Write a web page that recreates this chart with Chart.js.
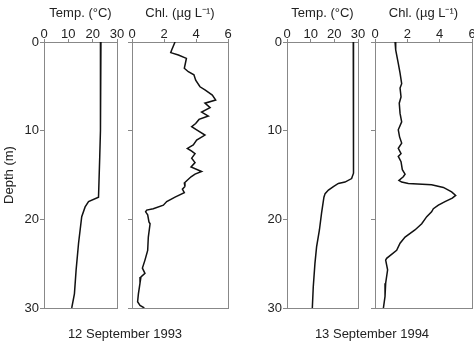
<!DOCTYPE html>
<html>
<head>
<meta charset="utf-8">
<script src="https://cdn.jsdelivr.net/npm/chart.js@4.4.0/dist/chart.umd.min.js"></script>
<style>
  body { margin: 0; background: #fff; }
  #wrap { position: relative; width: 474px; height: 349px; overflow: hidden; }
  #wrap canvas { position: absolute; left: 0; top: 0; }
  .date { position: absolute; top: 326px; width: 160px; text-align: center; line-height: 15px;
          font: 13px "Liberation Sans", Arial, sans-serif; color: #222; }
</style>
</head>
<body>
<div id="wrap">
  <canvas id="t93" width="474" height="349"></canvas>
  <canvas id="c93" width="474" height="349"></canvas>
  <canvas id="t94" width="474" height="349"></canvas>
  <canvas id="c94" width="474" height="349"></canvas>
  <div class="date" style="left:45px">12 September 1993</div>
  <div class="date" style="left:292px">13 September 1994</div>
</div>
<script>
// 12 Sept 1993 - temperature (°C) vs depth (m)
const depthT93 = [0, 10, 13, 17.5, 18.0, 18.6, 19.7, 22.7, 25.7, 28.4, 30];
const tempT93  = [23.4, 23.2, 22.9, 22.4, 18.3, 16.9, 15.5, 14.2, 13.2, 12.5, 11.4];

// 12 Sept 1993 - chlorophyll (µg/L) vs depth
const depthC93 = [0, 0.9, 1.2, 1.47, 1.85, 2.2, 2.97, 3.35, 3.7, 4.3, 5.05, 5.4, 5.98, 6.55, 6.9, 7.4,
  7.9, 8.35, 8.73, 9.2, 9.55, 9.9, 10.5, 11.06, 11.6, 12, 12.3, 12.6, 13.1, 13.6, 14.1, 14.6, 14.9,
  15.2, 15.9, 16.3, 16.6, 17, 17.5, 18.0, 18.4, 18.8, 18.96, 19.15, 19.5, 20.3, 20.5, 22, 23.5, 24.6,
  25.5, 26.1, 26.5, 27.2, 28.4, 29.3, 29.7, 30];
const chlC93 = [2.69, 2.48, 2.42, 2.9, 3.4, 3.36, 3.27, 3.52, 3.87, 3.98, 4.25, 4.56, 5.02, 5.23, 4.56, 4.88,
  4.35, 4.77, 4.19, 3.98, 3.73, 4.04, 4.56, 4.04, 3.83, 3.46, 3.73, 3.94, 3.73, 3.94, 3.69, 4.35, 3.94,
  3.69, 3.27, 3.31, 3.15, 3.27, 2.69, 2.17, 1.96, 1.33, 0.92, 0.85, 0.98, 1.06, 1.13, 1.02, 0.98, 0.81,
  0.65, 0.81, 0.56, 0.5, 0.4, 0.35, 0.5, 0.77];

// 13 Sept 1994 - temperature
const depthT94 = [0, 14.4, 14.8, 15.4, 15.8, 15.95, 16.3, 16.7, 17.1, 17.5, 19.3, 21.2, 23.1, 25, 27.6, 30];
const tempT94  = [28.0, 28.0, 28.2, 27.3, 24.5, 21.7, 19.6, 17.5, 16.1, 15.6, 14.6, 13.7, 12.5, 11.8, 11.1, 10.7];

// 13 Sept 1994 - chlorophyll
const depthC94 = [0, 0.9, 2.4, 3.5, 4.7, 5.2, 6.2, 6.9, 8.05, 9.0, 9.9, 10.7, 11.4, 12, 12.6, 12.9, 13.5,
  14.4, 14.9, 15.2, 15.6, 15.8, 15.95, 16.1, 16.4, 16.9, 17.3, 17.6, 18.0, 18.4, 18.8, 19.15, 19.7, 20.5,
  21.2, 22, 22.7, 23.5, 24.4, 24.6, 25.7, 27.2, 28.7, 30];
const chlC94 = [1.24, 1.28, 1.44, 1.55, 1.65, 1.55, 1.61, 1.5, 1.55, 1.65, 1.44, 1.52, 1.65, 1.44, 1.61, 1.44, 1.61,
  1.69, 1.86, 1.75, 1.48, 1.65, 2.06, 3.5, 4.23, 4.74, 4.99, 4.78, 4.33, 3.92, 3.61, 3.5, 3.2, 2.89,
  2.47, 1.86, 1.55, 1.34, 0.72, 0.66, 0.78, 0.66, 0.62, 0.52];

const FONT = { family: '"Liberation Sans", Arial, sans-serif', size: 13 };
const INK = '#222';
const FRAME = '#888';

// box around each plot area
const frameBox = {
  id: 'frameBox',
  beforeDatasetsDraw(chart) {
    const { ctx, chartArea: a } = chart;
    ctx.save();
    ctx.strokeStyle = FRAME;
    ctx.lineWidth = 1;
    ctx.strokeRect(Math.round(a.left) + 0.5, Math.round(a.top) + 0.5,
      Math.round(a.right - a.left), Math.round(a.bottom - a.top));
    ctx.restore();
  }
};

function profile(id, values, depths, o) {
  return new Chart(document.getElementById(id), {
    type: 'scatter',
    data: {
      datasets: [{
        data: values.map((v, i) => ({ x: v, y: depths[i] })),
        showLine: true,
        borderColor: '#111',
        borderWidth: 1.5,
        pointRadius: 0
      }]
    },
    options: {
      responsive: false,
      animation: false,
      devicePixelRatio: 1,
      layout: { padding: { left: o.left, right: 474 - o.right, top: 0, bottom: 349 - 308 } },
      plugins: { legend: { display: false }, tooltip: { enabled: false } },
      scales: {
        x: {
          type: 'linear', position: 'top', min: 0, max: o.max,
          ticks: { stepSize: o.step, font: FONT, color: INK, padding: -3, maxRotation: 0 },
          grid: { drawOnChartArea: false, tickLength: 3, color: FRAME },
          border: { color: FRAME },
          title: { display: true, text: o.title, font: FONT, color: INK, padding: { top: 6, bottom: 0 } },
          afterFit(s) { s.height = 42; }
        },
        y: {
          type: 'linear', reverse: true, min: 0, max: 30,
          ticks: { stepSize: 10, display: o.yLabels, font: FONT, color: INK, padding: 1 },
          grid: { drawOnChartArea: false, tickLength: 4, color: FRAME },
          border: { color: FRAME },
          title: { display: !!o.yTitle, text: 'Depth (m)', font: FONT, color: INK, padding: { top: 2, bottom: 0 } },
          afterFit(s) { s.width = o.yWidth; }
        }
      }
    },
    plugins: [frameBox]
  });
}

profile('t93', tempT93, depthT93, { left: 0, right: 117, yWidth: 44, max: 30, step: 10, title: 'Temp. (°C)', yLabels: true, yTitle: true });
profile('c93', chlC93, depthC93, { left: 119, right: 228, yWidth: 13, max: 6, step: 2, title: 'Chl. (µg L⁻¹)', yLabels: false });
profile('t94', tempT94, depthT94, { left: 263, right: 358, yWidth: 24, max: 30, step: 10, title: 'Temp. (°C)', yLabels: true });
profile('c94', chlC94, depthC94, { left: 362, right: 472, yWidth: 13, max: 6, step: 2, title: 'Chl. (µg L⁻¹)', yLabels: false });
</script>
</body>
</html>
